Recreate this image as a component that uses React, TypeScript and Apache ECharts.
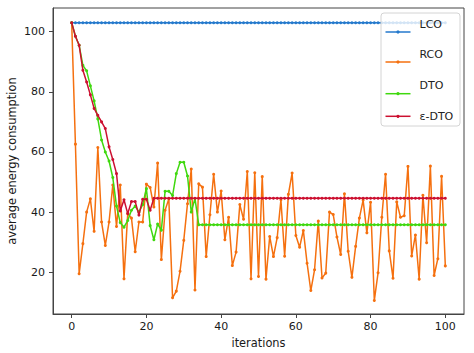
import React, { useEffect, useRef } from "react";
import * as echarts from "echarts";

const xTicks = [0, 20, 40, 60, 80, 100];
const yTicks = [20, 40, 60, 80, 100];
const seriesNames = ["LCO", "RCO", "DTO", "ε-DTO"];
const seriesColors = ["#2479cc", "#f5700f", "#3fd80e", "#cc1030"];

const lco = [
  103, 103, 103, 103, 103, 103, 103, 103, 103, 103,
  103, 103, 103, 103, 103, 103, 103, 103, 103, 103,
  103, 103, 103, 103, 103, 103, 103, 103, 103, 103,
  103, 103, 103, 103, 103, 103, 103, 103, 103, 103,
  103, 103, 103, 103, 103, 103, 103, 103, 103, 103,
  103, 103, 103, 103, 103, 103, 103, 103, 103, 103,
  103, 103, 103, 103, 103, 103, 103, 103, 103, 103,
  103, 103, 103, 103, 103, 103, 103, 103, 103, 103,
  103, 103, 103, 103, 103, 103, 103, 103, 103, 103,
  103, 103, 103, 103, 103, 103, 103, 103, 103, 103,
  103,
];

const rco = [
  103, 62.6, 19.5, 29.5, 40, 44.4, 33.6, 61.5, 36.7, 28.9,
  36.7, 49, 35.2, 49, 17.8, 39.5, 38, 26.8, 36.7, 36.7,
  49.3, 48.2, 41.7, 56.3, 24.2, 40.6, 44.4, 11.5, 13.7, 20.3,
  30.6, 42.8, 54.3, 14.1, 49.4, 48.3, 25.2, 39.1, 52.6, 40,
  47, 30.8, 38.3, 22.2, 26.7, 42.5, 37.6, 53.5, 17.8, 53.1,
  18.6, 51.8, 17.7, 31.9, 25.2, 31.5, 44.1, 25.3, 45.9, 53,
  32.2, 28.3, 33.9, 23, 13.9, 20.8, 37, 18.1, 19.7, 40,
  39.2, 31.7, 25.9, 46.1, 27, 18.3, 28.6, 38, 44, 33.1,
  43.3, 10.6, 19.8, 38.3, 52.6, 27.1, 18, 43.4, 38.3, 38.8,
  55.2, 25.4, 32.4, 17.7, 45.6, 29.8, 55.3, 18.9, 24.5, 51.9,
  22.1,
];

const dto = [
  103, 98.5, 95.5, 88.8, 87, 82, 77, 71, 64, 60,
  57, 51.5, 42, 36.5, 35, 37.2, 40.6, 42, 40, 42.5,
  47.8, 35.5, 30.8, 36, 34, 46.9, 46.9, 45.5, 52.8, 56.6,
  56.6, 52, 40, 44.5, 35.8, 35.8, 35.8, 35.8, 35.8, 35.8,
  35.8, 35.8, 35.8, 35.8, 35.8, 35.8, 35.8, 35.8, 35.8, 35.8,
  35.8, 35.8, 35.8, 35.8, 35.8, 35.8, 35.8, 35.8, 35.8, 35.8,
  35.8, 35.8, 35.8, 35.8, 35.8, 35.8, 35.8, 35.8, 35.8, 35.8,
  35.8, 35.8, 35.8, 35.8, 35.8, 35.8, 35.8, 35.8, 35.8, 35.8,
  35.8, 35.8, 35.8, 35.8, 35.8, 35.8, 35.8, 35.8, 35.8, 35.8,
  35.8, 35.8, 35.8, 35.8, 35.8, 35.8, 35.8, 35.8, 35.8, 35.8,
  35.8,
];

const edto = [
  103, 98.5, 95.5, 87.2, 83.3, 79, 74.5, 72.2, 70, 67.8,
  61.7, 57.5, 52.8, 40.4, 44.1, 39.5, 43.5, 43.5, 39, 44.3,
  44.3, 40.6, 44.6, 44.6, 44.6, 44.6, 44.6, 44.6, 44.6, 44.6,
  44.6, 44.6, 44.6, 44.6, 44.6, 44.6, 44.6, 44.6, 44.6, 44.6,
  44.6, 44.6, 44.6, 44.6, 44.6, 44.6, 44.6, 44.6, 44.6, 44.6,
  44.6, 44.6, 44.6, 44.6, 44.6, 44.6, 44.6, 44.6, 44.6, 44.6,
  44.6, 44.6, 44.6, 44.6, 44.6, 44.6, 44.6, 44.6, 44.6, 44.6,
  44.6, 44.6, 44.6, 44.6, 44.6, 44.6, 44.6, 44.6, 44.6, 44.6,
  44.6, 44.6, 44.6, 44.6, 44.6, 44.6, 44.6, 44.6, 44.6, 44.6,
  44.6, 44.6, 44.6, 44.6, 44.6, 44.6, 44.6, 44.6, 44.6, 44.6,
  44.6,
];

const allSeries = [lco, rco, dto, edto];

const FONT = "DejaVu Sans";

export default function App() {
  const ref = useRef<HTMLDivElement>(null);
  useEffect(() => {
    if (!ref.current) return;
    const chart = echarts.init(ref.current, null, { renderer: "svg" });

    const legendTextY = [24, 54.7, 85.3, 116.3];
    const legendLineY = [32, 62, 93.7, 116.3];
    const legendEls: any[] = [
      {
        type: "rect",
        z: 100,
        shape: { x: 381, y: 13, width: 79, height: 113, r: 3 },
        style: { fill: "rgba(255,255,255,0.8)", stroke: "#d4d4d4", lineWidth: 1 },
      },
    ];
    seriesNames.forEach((name, k) => {
      legendEls.push({
        type: "line",
        z: 101,
        shape: { x1: 385.5, y1: legendLineY[k], x2: 410.5, y2: legendLineY[k] },
        style: { stroke: seriesColors[k], lineWidth: 1.5 },
      });
      legendEls.push({
        type: "circle",
        z: 102,
        shape: { cx: 398, cy: legendLineY[k], r: 1.6 },
        style: { fill: seriesColors[k] },
      });
      legendEls.push({
        type: "text",
        z: 102,
        x: 419.5,
        y: legendTextY[k],
        style: {
          text: name,
          fill: "#222",
          fontSize: 11,
          fontFamily: FONT,
          verticalAlign: "middle",
          align: "left",
        },
      });
    });

    const option: any = {
      animation: false,
      backgroundColor: "#ffffff",
      grid: {
        left: 53,
        top: 8,
        right: 10,
        bottom: 39,
        show: true,
        borderColor: "#444",
        borderWidth: 1,
        backgroundColor: "transparent",
      },
      xAxis: {
        type: "value",
        min: -5,
        max: 105,
        splitLine: { show: false },
        axisLine: { show: true, onZero: false, lineStyle: { color: "#444", width: 1 } },
        axisTick: {
          show: true,
          length: 4,
          customValues: xTicks,
          lineStyle: { color: "#444" },
        },
        axisLabel: {
          customValues: xTicks,
          color: "#1a1a1a",
          fontSize: 11,
          fontFamily: FONT,
          margin: 7,
        },
      },
      yAxis: {
        type: "value",
        min: 6.1,
        max: 107.9,
        splitLine: { show: false },
        axisLine: { show: true, onZero: false, lineStyle: { color: "#444", width: 1 } },
        axisTick: {
          show: true,
          length: 4,
          customValues: yTicks,
          lineStyle: { color: "#444" },
        },
        axisLabel: {
          customValues: yTicks,
          color: "#1a1a1a",
          fontSize: 11,
          fontFamily: FONT,
          margin: 8,
        },
      },
      series: allSeries.map((vals, k) => ({
        name: seriesNames[k],
        type: "line",
        data: vals.map((v, i) => [i, v]),
        symbol: "circle",
        symbolSize: 3,
        showSymbol: true,
        lineStyle: { color: seriesColors[k], width: 1.5 },
        itemStyle: { color: seriesColors[k] },
        z: 2 + k,
      })),
      graphic: [
        {
          type: "text",
          x: 12,
          y: 161,
          rotation: Math.PI / 2,
          style: {
            text: "average energy consumption",
            fill: "#1a1a1a",
            fontSize: 11.4,
            fontFamily: FONT,
            align: "center",
            verticalAlign: "middle",
          },
        },
        {
          type: "text",
          x: 258.5,
          y: 343,
          style: {
            text: "iterations",
            fill: "#1a1a1a",
            fontSize: 11.4,
            fontFamily: FONT,
            align: "center",
            verticalAlign: "middle",
          },
        },
        ...legendEls,
      ],
    };
    chart.setOption(option);
    return () => chart.dispose();
  }, []);
  return (
    <div
      ref={ref}
      style={{ position: "fixed", left: 0, top: 0, width: 474, height: 353 }}
    />
  );
}
